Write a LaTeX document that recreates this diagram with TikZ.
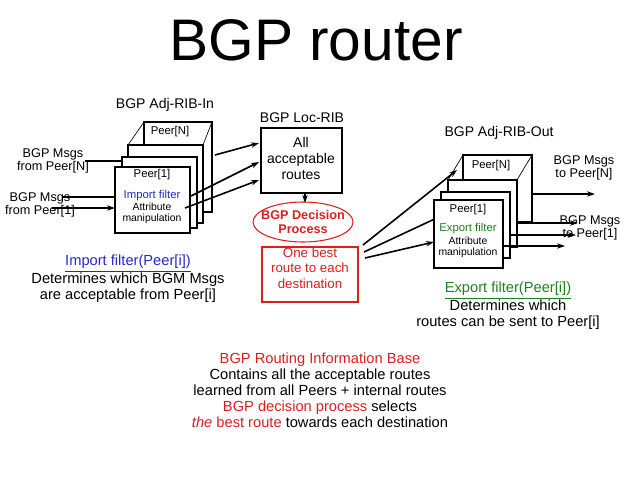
\documentclass[tikz,border=0pt]{standalone}
\usepackage{fontspec}
\setmainfont{Liberation Sans}
\usetikzlibrary{arrows.meta}
\definecolor{rred}{RGB}{220,30,30}
\definecolor{bblue}{RGB}{40,40,200}
\definecolor{ggreen}{RGB}{30,130,30}
\newcommand{\ul}[1]{\underline{#1}}
\begin{document}
\begin{tikzpicture}[x=0.75pt,y=-0.75pt,
  box/.style={draw,fill=white,line width=0.8pt},
  arr/.style={line width=1.2pt,-{Stealth[length=6pt,width=4pt]}},
  ln/.style={line width=1.2pt},
  lbl/.style={font=\fontsize{9.5}{10}\selectfont,align=center,inner sep=0pt},
  small/.style={font=\fontsize{8.5}{9}\selectfont,align=center,inner sep=0pt},
  tiny/.style={font=\fontsize{7.8}{8.5}\selectfont,align=center,inner sep=0pt},
  txt/.style={font=\fontsize{11}{12}\selectfont,align=center,inner sep=0pt}]
\useasboundingbox (0,0) rectangle (638,479);
\node[inner sep=0pt,font=\fontsize{44}{46}\selectfont] (title) at (316,40) {BGP router};
% ---- left stack
\node[lbl,font=\fontsize{10.5}{11}\selectfont] (inlab) at (165,105) {BGP Adj-RIB-In};
\draw[ln] (85,161) -- (122,161);
\draw[ln] (62,197) -- (115,197);
\draw[arr] (52,208) -- (115,208);
\node[lbl] (msgN) at (53,161) {BGP Msgs\\from Peer[N]};
\node[lbl] (msg1) at (40,205) {BGP Msgs\\from Peer[1]};
\draw[box] (144,122) rectangle (212,212);
\draw[line width=0.5pt] (128,145) -- (144,122) (203,145) -- (212,122);
\draw[box] (128,145) rectangle (203,223);
\node[small] (inN) at (170,132) {Peer[N]};
\draw[box] (122,157) rectangle (197,228);
\draw[box] (115,167) rectangle (190,233);
\node[small] (in1) at (152,175) {Peer[1]};
\node[small,text=bblue] (inf) at (152,196) {Import filter};
\node[tiny] (inam) at (152,213) {Attribute\\manipulation};
\coordinate (l1) at (215,155); \coordinate (l2) at (191,196); \coordinate (l3) at (185,208);
% ---- Loc-RIB
\node[lbl,font=\fontsize{10.5}{11}\selectfont] (loclab) at (302,118) {BGP Loc-RIB};
\draw[box] (261,128) rectangle (342,193);
\node[lbl,font=\fontsize{10.5}{12}\selectfont] (all) at (301,158) {All\\acceptable\\routes};
\coordinate (r1) at (259,143); \coordinate (r2) at (259,162); \coordinate (r3) at (259,180);
\draw[arr] (l1) -- (r1); \draw[arr] (l2) -- (r2); \draw[arr] (l3) -- (r3);
\draw[rred,line width=0.8pt] (303,222) ellipse (50 and 20);
\node[lbl,text=rred,font=\fontsize{9.5}{11}\bfseries] (dec) at (303,222) {BGP Decision\\Process};
\draw[arr] (305,193) -- (305,203);
\draw[rred,line width=0.8pt] (262,247) rectangle (358,302);
\node[lbl,text=rred,font=\fontsize{10}{11.5}\selectfont] (best) at (310,268) {One best\\route to each\\destination};
% ---- right stack
\node[lbl,font=\fontsize{10.5}{11}\selectfont] (outlab) at (499,133) {BGP Adj-RIB-Out};
\draw[arr] (363,245) -- (457,170);
\draw[arr] (364,252) -- (441,216);
\draw[arr] (365,258) -- (434,242);
\draw[box] (463,155) rectangle (532,222);
\draw[line width=0.5pt] (448,180) -- (463,155) (517,180) -- (532,155);
\draw[box] (448,180) rectangle (517,247);
\node[small] (outN) at (491,166) {Peer[N]};
\draw[box] (441,192) rectangle (510,258);
\draw[box] (434,200) rectangle (503,268);
\node[small] (out1) at (468,210) {Peer[1]};
\node[small,text=ggreen] (outf) at (468,229) {Export filter};
\node[tiny] (outam) at (468,247) {Attribute\\manipulation};
\draw[arr] (532,194) -- (595,194);
\draw[arr] (517,223) -- (578,223);
\draw[arr] (510,235) -- (576,235);
\draw[arr] (503,246) -- (565,246);
\node[lbl] (toN) at (584,168) {BGP Msgs\\to Peer[N]};
\node[lbl] (to1) at (590,228) {BGP Msgs\\to Peer[1]};
% ---- texts
\node[txt] (impt) at (128,279) {\textcolor{bblue}{\ul{Import filter(Peer[i])}}\\Determines which BGM Msgs\\are acceptable from Peer[i]};
\node[txt] (expt) at (508,306) {\textcolor{ggreen}{\ul{Export filter(Peer[i])}}\\Determines which\\routes can be sent to Peer[i]};
\node[txt] (rib) at (320,390) {\textcolor{rred}{BGP Routing Information Base}\\Contains all the acceptable routes\\learned from all Peers + internal routes\\\textcolor{rred}{BGP decision process} selects\\\textcolor{rred}{\textit{the} best route} towards each destination};
\end{tikzpicture}
\end{document}
